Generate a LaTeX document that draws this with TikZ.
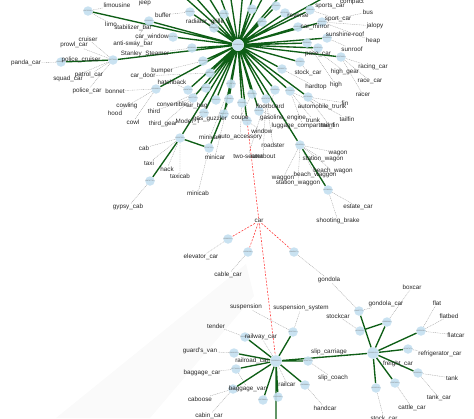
\documentclass[tikz,border=0pt]{standalone}
\usepackage{fontspec}
\setmainfont{Liberation Sans}
\usetikzlibrary{backgrounds}
\definecolor{synblue}{HTML}{C3DFF0}
\definecolor{gedge}{HTML}{0E5E16}
\begin{document}
\begin{tikzpicture}[x=1pt,y=-1pt,
 syn/.style={circle,fill=synblue,fill opacity=0.9,text opacity=1,inner sep=0pt,minimum size=9.5pt,font=\fontsize{1.7}{2}\selectfont,text=black!55},
 hubsyn/.style={syn,minimum size=11.5pt},
 lab/.style={inner sep=0.4pt,font=\fontsize{6.3}{7}\selectfont,text=black!85},
 hyp/.style={draw=gedge,line width=1.35pt},
 lem/.style={draw=black!38,line width=0.35pt,dash pattern=on 1pt off 0.8pt},
 rel/.style={draw=red!80,line width=0.55pt,dash pattern=on 2pt off 1.4pt}]
\useasboundingbox (0,0) rectangle (474,418);
\clip (0,0) rectangle (474,418);

% ---------- hubs ----------
\node[hubsyn] (H) at (238,45) {02958343-n};
\node[hubsyn] (H2) at (276,361) {02959942-n};
\node[hubsyn] (F) at (373,353) {03393912-n};
\node[lab] (car) at (259,221) {car};

% ---------- top synsets ----------
\node[syn] (sLimo) at (88,11) {03670208-n};
\node[syn] (sJeep) at (172,-14) {03594945-n};
\node[syn] (sStab) at (149,21) {02920083-n};
\node[syn] (sBuffer) at (190,12) {02920369-n};
\node[syn] (sWin) at (173,37) {02963788-n};
\node[syn] (sGrille) at (214,28) {03454885-n};
\node[syn] (sPol) at (113,60) {03977966-n};
\node[syn] (sPanda) at (61,62) {03886940-n};
\node[syn] (sStan) at (192,48) {04309049-n};
\node[syn] (sBump) at (203,61) {02910353-n};
\node[syn] (sDoor) at (210,73) {02960903-n};
\node[syn] (sHood) at (156,89) {03519981-n};
\node[syn] (sHatch) at (188,90) {03498781-n};
\node[syn] (sConv) at (206,88) {03100240-n};
\node[syn] (sAir) at (216,100) {02690809-n};
\node[syn] (sThird) at (193,98) {04427715-n};
\node[syn] (sModel) at (204,113) {03777568-n};
\node[syn] (sGuzz) at (224,114) {03421117-n};
\node[syn] (sMinicar) at (229,99) {03769881-n};
\node[syn] (sMinivan) at (231,84) {03770679-n};
\node[syn] (sAcc) at (242,103) {02761392-n};
\node[syn] (sCoupe) at (252,94) {03119396-n};
\node[syn] (sWind) at (247,121) {04590553-n};
\node[syn] (sEngine) at (259,111) {03432129-n};
\node[syn] (sRoad) at (266,99) {04097373-n};
\node[syn] (sFloor) at (275,90) {03365592-n};
\node[syn] (sTrunk) at (290,91) {03701391-n};
\node[syn] (sFin) at (308,97) {04379243-n};
\node[syn] (sHard) at (282,69) {03499907-n};
\node[syn] (sStock) at (300,62) {04322801-n};
\node[syn] (sPace) at (318,48) {03868242-n};
\node[syn] (sRacer) at (341,57) {04037443-n};
\node[syn] (sHigh) at (307,43) {03505383-n};
\node[syn] (sSun) at (327,38) {04356056-n};
\node[syn] (sMirror) at (298,27) {02965122-n};
\node[syn] (sJal) at (322,22) {02924116-n};
\node[syn] (sSports) at (310,10) {04285008-n};
\node[syn] (sComp) at (345,-14) {03079136-n};
\node[syn] (sRev) at (285,13) {04072193-n};
\node[syn] (sR1) at (262,22) {03032811-n};
\node[syn] (sR2) at (276,6) {02701002-n};
\node[syn] (sR3) at (252,9) {02814533-n};
\node[syn] (sR4) at (224,14) {03256166-n};
\node[syn] (sT1) at (198,-20) {02671780-n};
\node[syn] (sT2) at (214,-20) {02686568-n};
\node[syn] (sT3) at (228,-20) {02959942-n};
\node[syn] (sT4) at (244,-20) {03543394-n};
\node[syn] (sT5) at (258,-20) {04166281-n};
\node[syn] (sT6) at (272,-20) {04201297-n};
\node[syn] (sT7) at (294,-20) {04516354-n};
\node[syn] (sT8) at (180,-20) {03272562-n};
\node[syn] (sCab) at (180,138) {02930766-n};
\node[syn] (sMinicab) at (209,148) {03769722-n};
\node[syn] (sGypsy) at (150,181) {03474779-n};
\node[syn] (sWagon) at (300,145) {02814533-n};
\node[syn] (sEstate) at (328,190) {04208936-n};

% ---------- middle synsets ----------
\node[syn] (sElev) at (228,239) {03283221-n};
\node[syn] (sCable) at (248,252) {02934168-n};
\node[syn] (sGond) at (294,252) {03445617-n};

% ---------- bottom synsets ----------
\node[syn] (sGondCar) at (359,311) {03445777-n};
\node[syn] (sBox) at (387,322) {02883344-n};
\node[syn] (sStockcar) at (360,331) {04323026-n};
\node[syn] (sFlat) at (421,331) {03352628-n};
\node[syn] (sRef) at (408,349) {04064747-n};
\node[syn] (sTank) at (418,373) {04393549-n};
\node[syn] (sCattle) at (395,383) {02987492-n};
\node[syn] (sStock2) at (376,388) {04323519-n};
\node[syn] (sSusp) at (293,332) {04367011-n};
\node[syn] (sTender) at (245,337) {04414319-n};
\node[syn] (sGuard) at (234,353) {03466162-n};
\node[syn] (sBagCar) at (236,369) {02774630-n};
\node[syn] (sCaboose) at (233,389) {02912557-n};
\node[syn] (sB1) at (263,400) {02970849-n};
\node[syn] (sB2) at (278,397) {03122295-n};
\node[syn] (sB3) at (276,430) {03895293-n};
\node[syn] (sSlip) at (308,361) {04240752-n};
\node[syn] (sHand) at (305,385) {03490884-n};

% ---------- labels (top) ----------
\node[lab] (lLimousine) at (117,5) {limousine};
\node[lab] (lLimo) at (111,24) {limo};
\node[lab] (lJeep) at (145,3) {jeep};
\node[lab] (lBuffer) at (163,15) {buffer};
\node[lab] (lStab) at (133,28) {stabilizer\_bar};
\node[lab] (lAnti) at (133,44) {anti-sway\_bar};
\node[lab] (lCarWin) at (152,37) {car\_window};
\node[lab] (lGrille) at (205,22) {radiator\_grille};
\node[lab] (lCruiser) at (88,39) {cruiser};
\node[lab] (lProwl) at (74,45) {prowl\_car};
\node[lab] (lStan) at (145,54) {Stanley\_Steamer};
\node[lab] (lPanda) at (26,63) {panda\_car};
\node[lab] (lPolCr) at (81,60) {police\_cruiser};
\node[lab] (lPatrol) at (89,75) {patrol\_car};
\node[lab] (lSquad) at (68,79) {squad\_car};
\node[lab] (lPolice) at (87,91) {police\_car};
\node[lab] (lBumper) at (162,71) {bumper};
\node[lab] (lDoor) at (143,76) {car\_door};
\node[lab] (lHatch) at (172,82) {hatchback};
\node[lab] (lBonnet) at (115,91) {bonnet};
\node[lab] (lCowling) at (127,106) {cowling};
\node[lab] (lHood) at (115,113) {hood};
\node[lab] (lCowl) at (133,122) {cowl};
\node[lab] (lConv) at (172,104) {convertible};
\node[lab] (lAir) at (197,106) {air\_bag};
\node[lab] (lThird) at (154,111) {third};
\node[lab] (lThirdG) at (163,124) {third\_gear};
\node[lab] (lModel) at (188,122) {Model\_T};
\node[lab] (lGuzz) at (210,119) {gas\_guzzler};
\node[lab] (lMinivan) at (210,137) {minivan};
\node[lab] (lMinicar) at (215,157) {minicar};
\node[lab] (lAcc) at (240,137) {auto\_accessory};
\node[lab] (lCoupe) at (240,118) {coupe};
\node[lab] (lWindow) at (262,131) {window};
\node[lab] (lEngine) at (283,118) {gasoline\_engine};
\node[lab] (lRoad) at (273,145) {roadster};
\node[lab] (lTwo) at (248,156) {two-seater};
\node[lab] (lRun) at (263,156) {runabout};
\node[lab] (lFloor) at (270,106) {floorboard};
\node[lab] (lATrunk) at (322,107) {automobile\_trunk};
\node[lab] (lTrunk) at (313,120) {trunk};
\node[lab] (lLug) at (303,126) {luggage\_compartment};
\node[lab] (lFin) at (345,103) {fin};
\node[lab] (lTailfin) at (347,119) {tailfin};
\node[lab] (lTailFin2) at (330,126) {tail\_fin};
\node[lab] (lHard) at (316,87) {hardtop};
\node[lab] (lStock) at (308,73) {stock\_car};
\node[lab] (lPace) at (318,54) {pace\_car};
\node[lab] (lRacing) at (373,67) {racing\_car};
\node[lab] (lRaceCar) at (370,81) {race\_car};
\node[lab] (lRacer) at (363,95) {racer};
\node[lab] (lHighG) at (345,72) {high\_gear};
\node[lab] (lHigh) at (336,85) {high};
\node[lab] (lSunroof) at (352,49) {sunroof};
\node[lab] (lSunshine) at (345,34) {sunshine-roof};
\node[lab] (lMirror) at (315,27) {car\_mirror};
\node[lab] (lJalopy) at (375,26) {jalopy};
\node[lab] (lHeap) at (373,41) {heap};
\node[lab] (lBus) at (368,12) {bus};
\node[lab] (lSports) at (330,6) {sports\_car};
\node[lab] (lSport) at (338,19) {sport\_car};
\node[lab] (lComp) at (352,2) {compact};
\node[lab] (lRev) at (298,16) {reverse};
\node[lab] (lCab) at (144,148) {cab};
\node[lab] (lTaxi) at (149,163) {taxi};
\node[lab] (lHack) at (167,169) {hack};
\node[lab] (lTaxicab) at (180,176) {taxicab};
\node[lab] (lMinicab) at (198,193) {minicab};
\node[lab] (lGypsy) at (128,207) {gypsy\_cab};
\node[lab] (lWagon) at (338,153) {wagon};
\node[lab] (lSW) at (323,159) {station\_wagon};
\node[lab] (lBW) at (333,171) {beach\_wagon};
\node[lab] (lWaggon) at (283,178) {waggon};
\node[lab] (lBWg) at (315,175) {beach\_waggon};
\node[lab] (lSWg) at (298,183) {station\_waggon};
\node[lab] (lEstate) at (358,207) {estate\_car};
\node[lab] (lShoot) at (338,221) {shooting\_brake};

% ---------- labels (middle / bottom) ----------
\node[lab] (lElev) at (201,257) {elevator\_car};
\node[lab] (lCable) at (228,275) {cable\_car};
\node[lab] (lGondola) at (329,280) {gondola};
\node[lab] (lGondCar) at (386,304) {gondola\_car};
\node[lab] (lBox) at (412,287) {boxcar};
\node[lab] (lStockcar) at (338,316) {stockcar};
\node[lab] (lFlat) at (437,303) {flat};
\node[lab] (lFlatbed) at (449,316) {flatbed};
\node[lab] (lFlatcar) at (456,335) {flatcar};
\node[lab] (lRef) at (440,354) {refrigerator\_car};
\node[lab] (lFreight) at (398,364) {freight\_car};
\node[lab] (lTank) at (452,378) {tank};
\node[lab] (lTankCar) at (439,398) {tank\_car};
\node[lab] (lCattle) at (412,408) {cattle\_car};
\node[lab] (lStock2) at (384,419) {stock\_car};
\node[lab] (lSusp) at (246,307) {suspension};
\node[lab] (lSuspSys) at (301,308) {suspension\_system};
\node[lab] (lTender) at (216,326) {tender};
\node[lab] (lRailway) at (261,337) {railway\_car};
\node[lab] (lGuard) at (200,351) {guard's\_van};
\node[lab] (lSlipC) at (329,352) {slip\_carriage};
\node[lab] (lRailroad) at (252,361) {railroad\_car};
\node[lab] (lBagCar) at (202,373) {baggage\_car};
\node[lab] (lSlipCo) at (333,378) {slip\_coach};
\node[lab] (lRailcar) at (287,384) {railcar};
\node[lab] (lBagVan) at (248,389) {baggage\_van};
\node[lab] (lCaboose) at (200,399) {caboose};
\node[lab] (lHand) at (325,408) {handcar};
\node[lab] (lCabin) at (209,416) {cabin\_car};

\begin{scope}[on background layer]
\clip (0,0) rectangle (474,418);
\fill[black!2] (246,264) -- (56,418) -- (150,418) -- (254,296) -- cycle;
% lemma links
\path[lem] (sLimo) -- (lLimousine) (sLimo) -- (lLimo) (sJeep) -- (lJeep)
 (sStab) -- (lStab) (sStab) -- (lAnti) (sBuffer) -- (lBuffer) (sWin) -- (lCarWin)
 (sGrille) -- (lGrille)
 (sPol) -- (lCruiser) (sPol) -- (lProwl) (sPol) -- (lPolCr) (sPol) -- (lPatrol)
 (sPol) -- (lSquad) (sPol) -- (lPolice) (sPanda) -- (lPanda) (sStan) -- (lStan)
 (sBump) -- (lBumper) (sDoor) -- (lDoor) (sHood) -- (lBonnet) (sHood) -- (lCowling)
 (sHood) -- (lHood) (sHood) -- (lCowl) (sHatch) -- (lHatch) (sConv) -- (lConv)
 (sAir) -- (lAir) (sThird) -- (lThird) (sThird) -- (lThirdG) (sModel) -- (lModel)
 (sGuzz) -- (lGuzz) (sMinivan) -- (lMinivan) (sMinicar) -- (lMinicar) (sAcc) -- (lAcc)
 (sCoupe) -- (lCoupe) (sWind) -- (lWindow) (sEngine) -- (lEngine)
 (sRoad) -- (lRoad) (sRoad) -- (lTwo) (sRoad) -- (lRun) (sFloor) -- (lFloor)
 (sTrunk) -- (lATrunk) (sTrunk) -- (lTrunk) (sTrunk) -- (lLug)
 (sFin) -- (lFin) (sFin) -- (lTailfin) (sFin) -- (lTailFin2)
 (sHard) -- (lHard) (sStock) -- (lStock) (sPace) -- (lPace)
 (sRacer) -- (lRacing) (sRacer) -- (lRaceCar) (sRacer) -- (lRacer)
 (sHigh) -- (lHighG) (sHigh) -- (lHigh) (sSun) -- (lSunroof) (sSun) -- (lSunshine)
 (sMirror) -- (lMirror) (sJal) -- (lJalopy) (sJal) -- (lHeap) (sJal) -- (lBus)
 (sSports) -- (lSports) (sSports) -- (lSport) (sComp) -- (lComp) (sRev) -- (lRev)
 (sCab) -- (lCab) (sCab) -- (lTaxi) (sCab) -- (lHack) (sCab) -- (lTaxicab)
 (sMinicab) -- (lMinicab) (sGypsy) -- (lGypsy)
 (sWagon) -- (lWagon) (sWagon) -- (lSW) (sWagon) -- (lBW) (sWagon) -- (lWaggon)
 (sWagon) -- (lBWg) (sWagon) -- (lSWg) (sEstate) -- (lEstate) (sEstate) -- (lShoot)
 (sElev) -- (lElev) (sCable) -- (lCable) (sGond) -- (lGondola)
 (sGondCar) -- (lGondola) (sGondCar) -- (lGondCar) (sBox) -- (lBox)
 (sStockcar) -- (lStockcar) (sFlat) -- (lFlat) (sFlat) -- (lFlatbed) (sFlat) -- (lFlatcar)
 (sRef) -- (lRef) (sTank) -- (lTank) (sTank) -- (lTankCar) (sCattle) -- (lCattle)
 (sStock2) -- (lStock2) (F) -- (lFreight)
 (H2) -- (lRailway) (H2) -- (lRailroad) (H2) -- (lRailcar)
 (sSusp) -- (lSusp) (sSusp) -- (lSuspSys) (sTender) -- (lTender) (sGuard) -- (lGuard)
 (sBagCar) -- (lBagCar) (sBagCar) -- (lBagVan) (sCaboose) -- (lCaboose) (sCaboose) -- (lCabin)
 (sSlip) -- (lSlipC) (sSlip) -- (lSlipCo) (sHand) -- (lHand);
% shared lemma "car"
\path[rel] (car) -- (H) (car) -- (sElev) (car) -- (sCable) (car) -- (sGond) (car) -- (H2);
% hyponym / part links
\path[hyp] (H) -- (sLimo) (H) -- (sJeep) (H) -- (sStab) (H) -- (sBuffer) (H) -- (sWin)
 (H) -- (sGrille) (H) -- (sPol) (H) -- (sStan) (H) -- (sBump) (H) -- (sDoor)
 (H) -- (sHood) (H) -- (sHatch) (H) -- (sConv) (H) -- (sAir) (H) -- (sThird)
 (H) -- (sModel) (H) -- (sGuzz) (H) -- (sMinicar) (H) -- (sMinivan) (H) -- (sAcc)
 (H) -- (sCoupe) (H) -- (sWind) (H) -- (sEngine) (H) -- (sRoad) (H) -- (sFloor)
 (H) -- (sTrunk) (H) -- (sFin) (H) -- (sHard) (H) -- (sStock) (H) -- (sPace)
 (H) -- (sRacer) (H) -- (sHigh) (H) -- (sSun) (H) -- (sMirror) (H) -- (sJal)
 (H) -- (sSports) (H) -- (sComp) (H) -- (sRev) (H) -- (sR1) (H) -- (sR2) (H) -- (sR3)
 (H) -- (sR4) (H) -- (sT1) (H) -- (sT2) (H) -- (sT3) (H) -- (sT4) (H) -- (sT5)
 (H) -- (sT6) (H) -- (sT7) (H) -- (sT8) (H) -- (sCab) (H) -- (sWagon)
 (sPol) -- (sPanda) (sCab) -- (sMinicab) (sMinicar) -- (sMinicab) (sCab) -- (sGypsy)
 (sWagon) -- (sEstate)
 (H2) -- (sSusp) (H2) -- (sTender) (H2) -- (sGuard) (H2) -- (sBagCar) (H2) -- (sCaboose)
 (H2) -- (sB1) (H2) -- (sB2) (H2) -- (sB3) (H2) -- (sSlip) (H2) -- (sHand) (H2) -- (F)
 (F) -- (sGondCar) (F) -- (sBox) (F) -- (sFlat) (F) -- (sRef) (F) -- (sTank)
 (F) -- (sCattle) (F) -- (sStock2) (sStockcar) -- (sBox);
\end{scope}
\end{tikzpicture}
\end{document}
